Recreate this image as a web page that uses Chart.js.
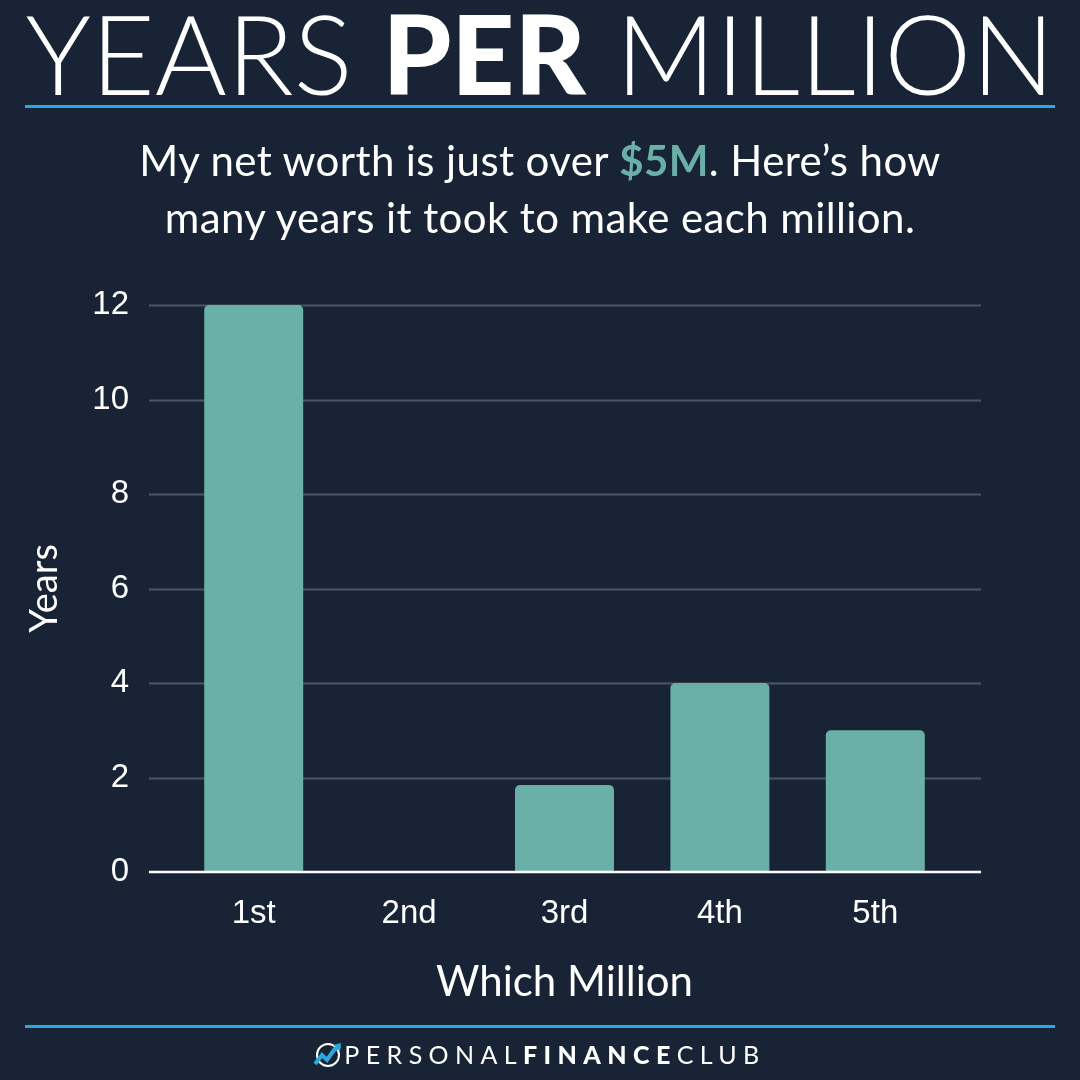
<!DOCTYPE html>
<html>
<head>
<meta charset="utf-8">
<script src="https://cdn.jsdelivr.net/npm/chart.js@4"></script>
<style>
  html, body { margin: 0; padding: 0; background: #182435; }
  #wrap { position: relative; width: 1080px; height: 1080px; overflow: hidden; background: #182435; }
  #chart { position: absolute; left: 0; top: 0; }
  .title {
    position: absolute; left: 0; top: -3px; width: 1080px; text-align: center;
    font-family: 'Lato', sans-serif; font-size: 110px; line-height: 110px;
    color: #fff; font-weight: 300; letter-spacing: 0px; white-space: nowrap;
  }
  .title b { font-weight: 900; }
  .rule { position: absolute; left: 25px; width: 1030px; height: 3px; background: #29a9e1; }
  .sub {
    position: absolute; left: 0; top: 132px; width: 1080px; text-align: center;
    font-family: 'Lato', sans-serif; font-size: 42px; line-height: 57px; color: #fff;
    letter-spacing: 0.4px;
  }
  .sub b { color: #6ab0a8; font-weight: 700; }
  .footer {
    position: absolute; left: 0; top: 1038px; width: 1080px; text-align: center;
    font-family: 'Lato', sans-serif; font-size: 25px; line-height: 32px; color: #fff;
    letter-spacing: 6.4px; white-space: nowrap;
  }
  .footer b { font-weight: 900; }
  .footer svg { vertical-align: -4px; margin-right: 2px; }
</style>
</head>
<body>
<div id="wrap">
  <canvas id="chart" width="1080" height="1080"></canvas>
  <div class="title">YEARS <b>PER</b> MILLION</div>
  <div class="rule" style="top:105px"></div>
  <div class="sub">My net worth is just over <b>$5M</b>. Here’s how<br>many years it took to make each million.</div>
  <div class="rule" style="top:1025px"></div>
  <div class="footer"><svg width="28" height="26" viewBox="0 0 28 26"><circle cx="14" cy="13" r="11" fill="none" stroke="#fff" stroke-width="2"/><polyline points="1,22 8,13 13,18 20,8 26,4" fill="none" stroke="#29a9e1" stroke-width="4"/><polygon points="27,1 19,3 26,9" fill="#29a9e1"/></svg>PERSONAL<b>FINANCE</b>CLUB</div>
</div>
<script>
// Years it took to earn each million
const categories = ['1st', '2nd', '3rd', '4th', '5th'];
const years = [12, 0, 1.84, 4, 3];
const yTicks = [0, 2, 4, 6, 8, 10, 12];

const barColor = '#6ab0a8';
const gridColor = '#4b5666';

// grid lines + baseline spanning a bit wider than the category area
const gridPlugin = {
    id: 'wideGrid',
    beforeDatasetsDraw(chart) {
        const { ctx, chartArea } = chart;
        const y = chart.scales.y;
        const x0 = chartArea.left - 27, x1 = chartArea.right + 28;
        ctx.save();
        ctx.lineWidth = 2;
        yTicks.forEach(v => {
            if (v === 0) return;
            const py = Math.round(y.getPixelForValue(v)) + 0.5;
            ctx.strokeStyle = gridColor;
            ctx.beginPath();
            ctx.moveTo(x0, py);
            ctx.lineTo(x1, py);
            ctx.stroke();
        });
        ctx.restore();
    },
    afterDatasetsDraw(chart) {
        const { ctx, chartArea } = chart;
        const py = chart.scales.y.getPixelForValue(0);
        ctx.save();
        ctx.strokeStyle = '#ffffff';
        ctx.lineWidth = 2.5;
        ctx.beginPath();
        ctx.moveTo(chartArea.left - 27, py);
        ctx.lineTo(chartArea.right + 28, py);
        ctx.stroke();
        ctx.restore();
    }
};

new Chart(document.getElementById('chart'), {
    type: 'bar',
    data: {
        labels: categories,
        datasets: [{
            data: years,
            backgroundColor: barColor,
            borderRadius: { topLeft: 5, topRight: 5 },
            borderSkipped: 'bottom',
            categoryPercentage: 1,
            barPercentage: 0.637,
        }]
    },
    options: {
        responsive: false,
        animation: false,
        devicePixelRatio: 1,
        layout: { padding: { top: 305, right: 127, left: 0, bottom: 0 } },
        plugins: { legend: { display: false }, tooltip: { enabled: false } },
        scales: {
            y: {
                min: 0, max: 12,
                afterFit(scale) { scale.width = 176; },
                afterBuildTicks(scale) { scale.ticks = yTicks.map(v => ({ value: v })); },
                grid: { display: false, drawTicks: false },
                border: { display: false },
                ticks: {
                    color: '#ffffff', padding: 47,
                    font: { family: "'Liberation Sans', Arial, sans-serif", size: 33 }
                },
                title: {
                    display: true, text: 'Years', color: '#ffffff',
                    font: { family: "'Lato', sans-serif", size: 38 },
                    padding: { top: 22, bottom: 0 }
                }
            },
            x: {
                afterFit(scale) { scale.height = 208; },
                grid: { display: false, drawTicks: false },
                border: { display: false },
                ticks: {
                    color: '#ffffff', padding: 22,
                    font: { family: "'Liberation Sans', Arial, sans-serif", size: 33 }
                },
                title: {
                    display: true, text: 'Which Million', color: '#ffffff',
                    font: { family: "'Lato', sans-serif", size: 42 },
                    padding: { top: 0, bottom: 72 }
                }
            }
        }
    },
    plugins: [gridPlugin]
});
</script>
</body>
</html>
